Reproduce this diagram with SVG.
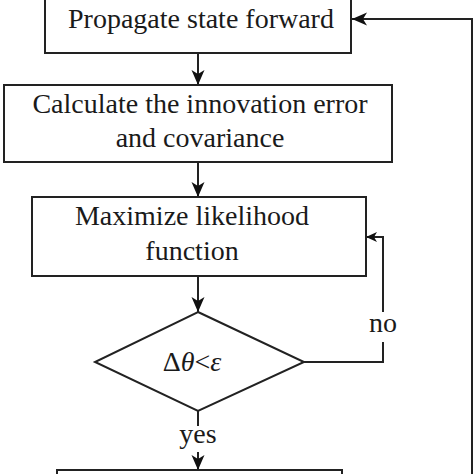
<svg xmlns="http://www.w3.org/2000/svg" width="474" height="474" viewBox="0 0 474 474">
<defs>
<style>
.box{fill:#fff;stroke:#222;stroke-width:2}
.ln{fill:none;stroke:#222;stroke-width:2}
.t{font-family:"Liberation Serif","Times New Roman",serif;font-size:28px;fill:#1a1a1a;text-anchor:middle}
</style>
<marker id="ah" viewBox="-16 -7 17 14" markerWidth="17" markerHeight="14" refX="0" refY="0" orient="auto" markerUnits="userSpaceOnUse">
<path d="M0,0 L-15,-6.5 L-11,0 L-15,6.5 Z" fill="#111"/>
</marker>
<marker id="ahs" viewBox="-12 -6 13 12" markerWidth="13" markerHeight="12" refX="0" refY="0" orient="auto" markerUnits="userSpaceOnUse">
<path d="M0,0 L-11,-5 L-8,0 L-11,5 Z" fill="#111"/>
</marker>
</defs>
<rect width="474" height="474" fill="#fff"/>
<g id="connectors">
<line class="ln" x1="198" y1="53" x2="198" y2="85" marker-end="url(#ah)"/>
<line class="ln" x1="198" y1="162" x2="198" y2="197" marker-end="url(#ah)"/>
<line class="ln" x1="198" y1="276" x2="198" y2="312" marker-end="url(#ah)"/>
<polyline class="ln" points="304,362 383,362 383,342"/>
<polyline class="ln" points="383,312 383,237 366,237" marker-end="url(#ahs)"/>
<line class="ln" x1="198" y1="411" x2="198" y2="426"/>
<line class="ln" x1="198" y1="452" x2="198" y2="470" marker-end="url(#ah)"/>
<polyline class="ln" points="472,480 472,19 352,19" marker-end="url(#ah)"/>
<text class="t" x="383" y="332">no</text>
<text class="t" x="198" y="443">yes</text>
</g>
<g id="n1">
<rect class="box" x="45" y="-10" width="306" height="63"/>
<text class="t" x="201" y="28">Propagate state forward</text>
</g>
<g id="n2">
<rect class="box" x="4" y="85" width="388" height="77"/>
<text class="t" x="200" y="113">Calculate the innovation error</text>
<text class="t" x="200" y="147">and covariance</text>
</g>
<g id="n3">
<rect class="box" x="32" y="197" width="334" height="79"/>
<text class="t" x="192" y="225">Maximize likelihood</text>
<text class="t" x="192" y="260">function</text>
</g>
<g id="n4">
<polygon class="box" points="198,312 304,362 198,411 95,362"/>
<text class="t" x="192" y="371">Δ<tspan font-style="italic">θ</tspan>&lt;<tspan font-style="italic">ε</tspan></text>
</g>
<g id="n5">
<rect class="box" x="57" y="470" width="285" height="20"/>
</g>
</svg>
